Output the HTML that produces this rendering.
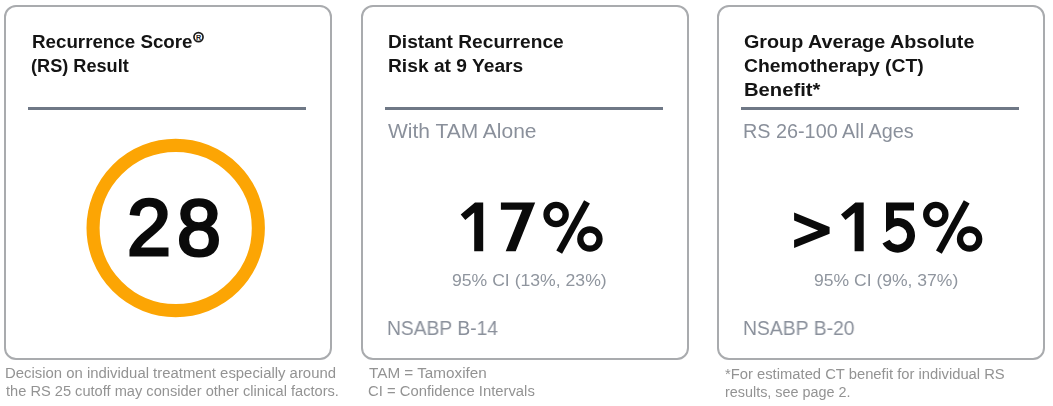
<!DOCTYPE html>
<html><head><meta charset="utf-8">
<style>
html,body{margin:0;padding:0;background:#fff;}
body{filter:blur(0.45px);width:1053px;height:406px;position:relative;overflow:hidden;font-family:"Liberation Sans",sans-serif;color:#111;}
.card{position:absolute;top:4.5px;height:351.5px;width:324px;border:2px solid #a9abae;border-radius:12px;box-sizing:content-box;background:#fff;}
#c1{left:4px;}#c2{left:361px;}#c3{left:717px;}
.t{position:absolute;white-space:nowrap;transform-origin:0 0;will-change:transform;}
.h{font-weight:bold;color:#141414;}
.rule{position:absolute;height:3.4px;top:106.9px;width:278.4px;background:#6f7886;}
.sub{color:#8a909b;}
.big{font-weight:bold;color:#0a0a0a;}
.ci{color:#8f959e;}
.foot{color:#939393;}
.big28{font-weight:normal;color:#0a0a0a;-webkit-text-stroke:3px #0a0a0a;}
</style></head><body>
<div class="card" id="c1"></div>
<div class="card" id="c2"></div>
<div class="card" id="c3"></div>
<div class="rule" id="r1" style="left:28px;"></div>
<div class="rule" id="r2" style="left:385px;"></div>
<div class="rule" id="r3" style="left:741px;"></div>
<svg style="position:absolute;left:80px;top:132px;" width="192" height="192"><circle cx="95.7" cy="96.0" r="82.65" fill="none" stroke="#fca504" stroke-width="13.1"/></svg>
<svg id="glyphs" style="position:absolute;left:0;top:0;" width="1053" height="406" viewBox="0 0 1053 406">
<path fill="#0a0a0a" d="M475.0,202.4 H483.2 V251.3 H474.2 V212.4 L465.3,220.0 L460.7,214.6 Z"/>
<path fill="#0a0a0a" d="M500.9,202.4 H535.2 L515.7,251.3 H505.7 L522.3,209.7 H500.9 Z"/>
<circle cx="556.1" cy="214.5" r="9.6" fill="none" stroke="#0a0a0a" stroke-width="6.3"/><circle cx="589.9" cy="239.1" r="9.6" fill="none" stroke="#0a0a0a" stroke-width="6.3"/><line x1="587.0" y1="201.8" x2="559.2" y2="252.2" stroke="#0a0a0a" stroke-width="6.6"/>
<path fill="#0a0a0a" d="M794.1,212.6 L829.6,227.0 V233.8 L794.1,248.1 V240.1 L818.2,230.4 L794.1,220.6 Z"/>
<path fill="#0a0a0a" d="M855.4,202.4 H863.7 V251.3 H854.6 V212.4 L845.5,220.0 L841.0,214.6 Z"/>
<path fill="none" stroke="#0a0a0a" stroke-width="8" stroke-linejoin="miter" d="M914,206.4 H890 V224.5 A13.3,13.3 0 1 1 886,241.6"/>
<circle cx="935.8" cy="214.5" r="9.6" fill="none" stroke="#0a0a0a" stroke-width="6.3"/><circle cx="969.6" cy="239.1" r="9.6" fill="none" stroke="#0a0a0a" stroke-width="6.3"/><line x1="966.7" y1="201.8" x2="938.9" y2="252.2" stroke="#0a0a0a" stroke-width="6.6"/>
<circle cx="198.5" cy="37.1" r="4.55" fill="none" stroke="#1c1c1c" stroke-width="1.7"/>
<text x="198.6" y="39.7" text-anchor="middle" font-family="Liberation Sans, sans-serif" font-weight="bold" font-size="7.2" fill="#1c1c1c">R</text>
</svg>

<div class="t h" id="h1a" style="left:32px;top:32px;font-size:18.0px;line-height:20.106px;transform:scaleX(1.0416);">Recurrence Score</div>
<div class="t h" id="h1b" style="left:31px;top:56px;font-size:18.0px;line-height:20.106px;transform:scaleX(1.0081);">(RS) Result</div>
<div class="t h" id="h2a" style="left:388px;top:32px;font-size:18.0px;line-height:20.106px;transform:scaleX(1.0645);">Distant Recurrence</div>
<div class="t h" id="h2b" style="left:388px;top:56px;font-size:18.0px;line-height:20.106px;transform:scaleX(1.0668);">Risk at 9 Years</div>
<div class="t h" id="h3a" style="left:744px;top:32px;font-size:18.0px;line-height:20.106px;transform:scaleX(1.0968);">Group Average Absolute</div>
<div class="t h" id="h3b" style="left:744px;top:56px;font-size:18.0px;line-height:20.106px;transform:scaleX(1.0765);">Chemotherapy (CT)</div>
<div class="t h" id="h3c" style="left:744px;top:80px;font-size:18.0px;line-height:20.106px;transform:scaleX(1.1237);">Benefit*</div>
<div class="t sub" id="s2" style="left:388px;top:121px;font-size:19.5px;line-height:21.782px;transform:scaleX(1.0764);">With TAM Alone</div>
<div class="t sub" id="s3" style="left:743px;top:121px;font-size:19.5px;line-height:21.782px;transform:scaleX(1.0153);">RS 26-100 All Ages</div>
<div class="t big28" id="n1a" style="left:127px;top:184px;font-size:79.0px;line-height:88.243px;transform:scaleX(1.0008);">2</div>
<div class="t big28" id="n1b" style="left:177px;top:184px;font-size:79.0px;line-height:88.243px;transform:scaleX(0.9921);">8</div>
<div class="t ci" id="ci2" style="left:452px;top:271px;font-size:17.0px;line-height:18.989px;transform:scaleX(1.0361);">95% CI (13%, 23%)</div>
<div class="t ci" id="ci3" style="left:814px;top:271px;font-size:17.0px;line-height:18.989px;transform:scaleX(1.0318);">95% CI (9%, 37%)</div>
<div class="t sub" id="b2" style="left:387px;top:318px;font-size:19.5px;line-height:21.782px;transform:scaleX(0.9872);">NSABP B-14</div>
<div class="t sub" id="b3" style="left:743px;top:318px;font-size:19.5px;line-height:21.782px;transform:scaleX(0.9926);">NSABP B-20</div>
<div class="t foot" id="f1a" style="left:5px;top:366px;font-size:14.0px;line-height:15.638px;transform:scaleX(1.0632);">Decision on individual treatment especially around</div>
<div class="t foot" id="f1b" style="left:6px;top:384px;font-size:14.0px;line-height:15.638px;transform:scaleX(1.0444);">the RS 25 cutoff may consider other clinical factors.</div>
<div class="t foot" id="f2a" style="left:369px;top:366px;font-size:14.0px;line-height:15.638px;transform:scaleX(1.0907);">TAM = Tamoxifen</div>
<div class="t foot" id="f2b" style="left:368px;top:384px;font-size:14.0px;line-height:15.638px;transform:scaleX(1.0586);">CI = Confidence Intervals</div>
<div class="t foot" id="f3a" style="left:725px;top:367px;font-size:14.0px;line-height:15.638px;transform:scaleX(1.0552);">*For estimated CT benefit for individual RS</div>
<div class="t foot" id="f3b" style="left:725px;top:385px;font-size:14.0px;line-height:15.638px;transform:scaleX(1.0273);">results, see page 2.</div>
</body></html>
